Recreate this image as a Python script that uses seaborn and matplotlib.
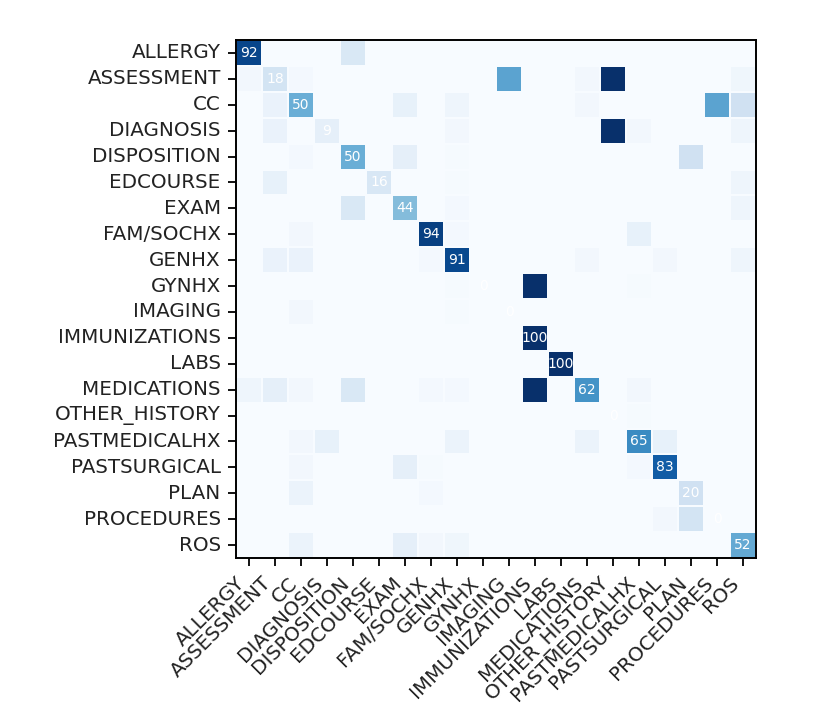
import numpy as np
import pandas as pd
import matplotlib
matplotlib.use("Agg")
import matplotlib.pyplot as plt
import seaborn as sns

classes = ["ALLERGY", "ASSESSMENT", "CC", "DIAGNOSIS", "DISPOSITION", "EDCOURSE",
           "EXAM", "FAM/SOCHX", "GENHX", "GYNHX", "IMAGING", "IMMUNIZATIONS",
           "LABS", "MEDICATIONS", "OTHER_HISTORY", "PASTMEDICALHX",
           "PASTSURGICAL", "PLAN", "PROCEDURES", "ROS"]

# diagonal (per-class) scores shown as annotations
diagonal = [92, 18, 50, 9, 50, 16, 44, 94, 91, 0, 0, 100, 100, 62, 0, 65, 83, 20, 0, 52]

# off-diagonal cells: (true label, predicted label, value)
off_diagonal = [
    ("ALLERGY", "DISPOSITION", 15),
    ("ASSESSMENT", "ALLERGY", 3), ("ASSESSMENT", "CC", 2), ("ASSESSMENT", "IMAGING", 55),
    ("ASSESSMENT", "MEDICATIONS", 3), ("ASSESSMENT", "OTHER_HISTORY", 100), ("ASSESSMENT", "ROS", 4),
    ("CC", "ASSESSMENT", 7), ("CC", "EXAM", 8), ("CC", "GENHX", 5), ("CC", "MEDICATIONS", 3),
    ("CC", "PROCEDURES", 55), ("CC", "ROS", 20),
    ("DIAGNOSIS", "ASSESSMENT", 7), ("DIAGNOSIS", "GENHX", 3), ("DIAGNOSIS", "OTHER_HISTORY", 100),
    ("DIAGNOSIS", "PASTMEDICALHX", 3), ("DIAGNOSIS", "ROS", 5),
    ("DISPOSITION", "CC", 2), ("DISPOSITION", "EXAM", 9), ("DISPOSITION", "GENHX", 1),
    ("DISPOSITION", "PLAN", 20),
    ("EDCOURSE", "ASSESSMENT", 8), ("EDCOURSE", "GENHX", 1), ("EDCOURSE", "ROS", 5),
    ("EXAM", "DISPOSITION", 15), ("EXAM", "GENHX", 2), ("EXAM", "ROS", 5),
    ("FAM/SOCHX", "CC", 3), ("FAM/SOCHX", "GENHX", 2), ("FAM/SOCHX", "PASTMEDICALHX", 8),
    ("GENHX", "ASSESSMENT", 7), ("GENHX", "CC", 7), ("GENHX", "FAM/SOCHX", 2),
    ("GENHX", "MEDICATIONS", 3), ("GENHX", "PASTSURGICAL", 3), ("GENHX", "ROS", 5),
    ("GYNHX", "IMMUNIZATIONS", 100), ("GYNHX", "PASTMEDICALHX", 1), ("GYNHX", "GENHX", 1),
    ("IMAGING", "CC", 3), ("IMAGING", "GENHX", 1),
    ("MEDICATIONS", "ALLERGY", 5), ("MEDICATIONS", "ASSESSMENT", 9), ("MEDICATIONS", "CC", 3),
    ("MEDICATIONS", "DISPOSITION", 15), ("MEDICATIONS", "FAM/SOCHX", 2), ("MEDICATIONS", "GENHX", 2),
    ("MEDICATIONS", "IMMUNIZATIONS", 100), ("MEDICATIONS", "PASTMEDICALHX", 3),
    ("OTHER_HISTORY", "PASTMEDICALHX", 1),
    ("PASTMEDICALHX", "CC", 3), ("PASTMEDICALHX", "DIAGNOSIS", 8), ("PASTMEDICALHX", "GENHX", 6),
    ("PASTMEDICALHX", "MEDICATIONS", 6), ("PASTMEDICALHX", "PASTSURGICAL", 8),
    ("PASTSURGICAL", "CC", 3), ("PASTSURGICAL", "EXAM", 9), ("PASTSURGICAL", "FAM/SOCHX", 1),
    ("PASTSURGICAL", "PASTMEDICALHX", 2),
    ("PLAN", "CC", 6), ("PLAN", "FAM/SOCHX", 2),
    ("PROCEDURES", "PASTSURGICAL", 3), ("PROCEDURES", "PLAN", 18),
    ("ROS", "CC", 6), ("ROS", "EXAM", 9), ("ROS", "FAM/SOCHX", 3), ("ROS", "GENHX", 4),
]

n = len(classes)
matrix = pd.DataFrame(np.zeros((n, n)), index=classes, columns=classes)
for i, c in enumerate(classes):
    matrix.loc[c, c] = diagonal[i]
for t, p, v in off_diagonal:
    matrix.loc[t, p] = v

annot = np.full((n, n), "", dtype=object)
for i in range(n):
    annot[i, i] = f"{diagonal[i]:d}"

W, H = 817, 723
fig = plt.figure(figsize=(W / 100, H / 100), dpi=100)
ax = fig.add_axes([236 / W, 1 - 558 / H, 520 / W, 518 / H])

sns.heatmap(matrix, ax=ax, cmap="Blues", vmin=0, vmax=100, cbar=False,
            annot=annot, fmt="", annot_kws={"color": "white", "fontsize": 10},
            linewidths=0.3, linecolor="#f7fbff",
            xticklabels=classes, yticklabels=classes)

for s in ax.spines.values():
    s.set_visible(True)
    s.set_linewidth(1.4)
    s.set_color("black")

ax.tick_params(axis="both", length=6, width=1.3, pad=5, labelsize=14.3, colors="black")
ax.tick_params(axis="x", labelcolor="#222222")
ax.tick_params(axis="y", labelcolor="#222222")
plt.setp(ax.get_xticklabels(), rotation=45, ha="right")
plt.setp(ax.get_yticklabels(), rotation=0)
ax.set_xlabel("")
ax.set_ylabel("")

fig.savefig("out.png", dpi=100, facecolor="white")
